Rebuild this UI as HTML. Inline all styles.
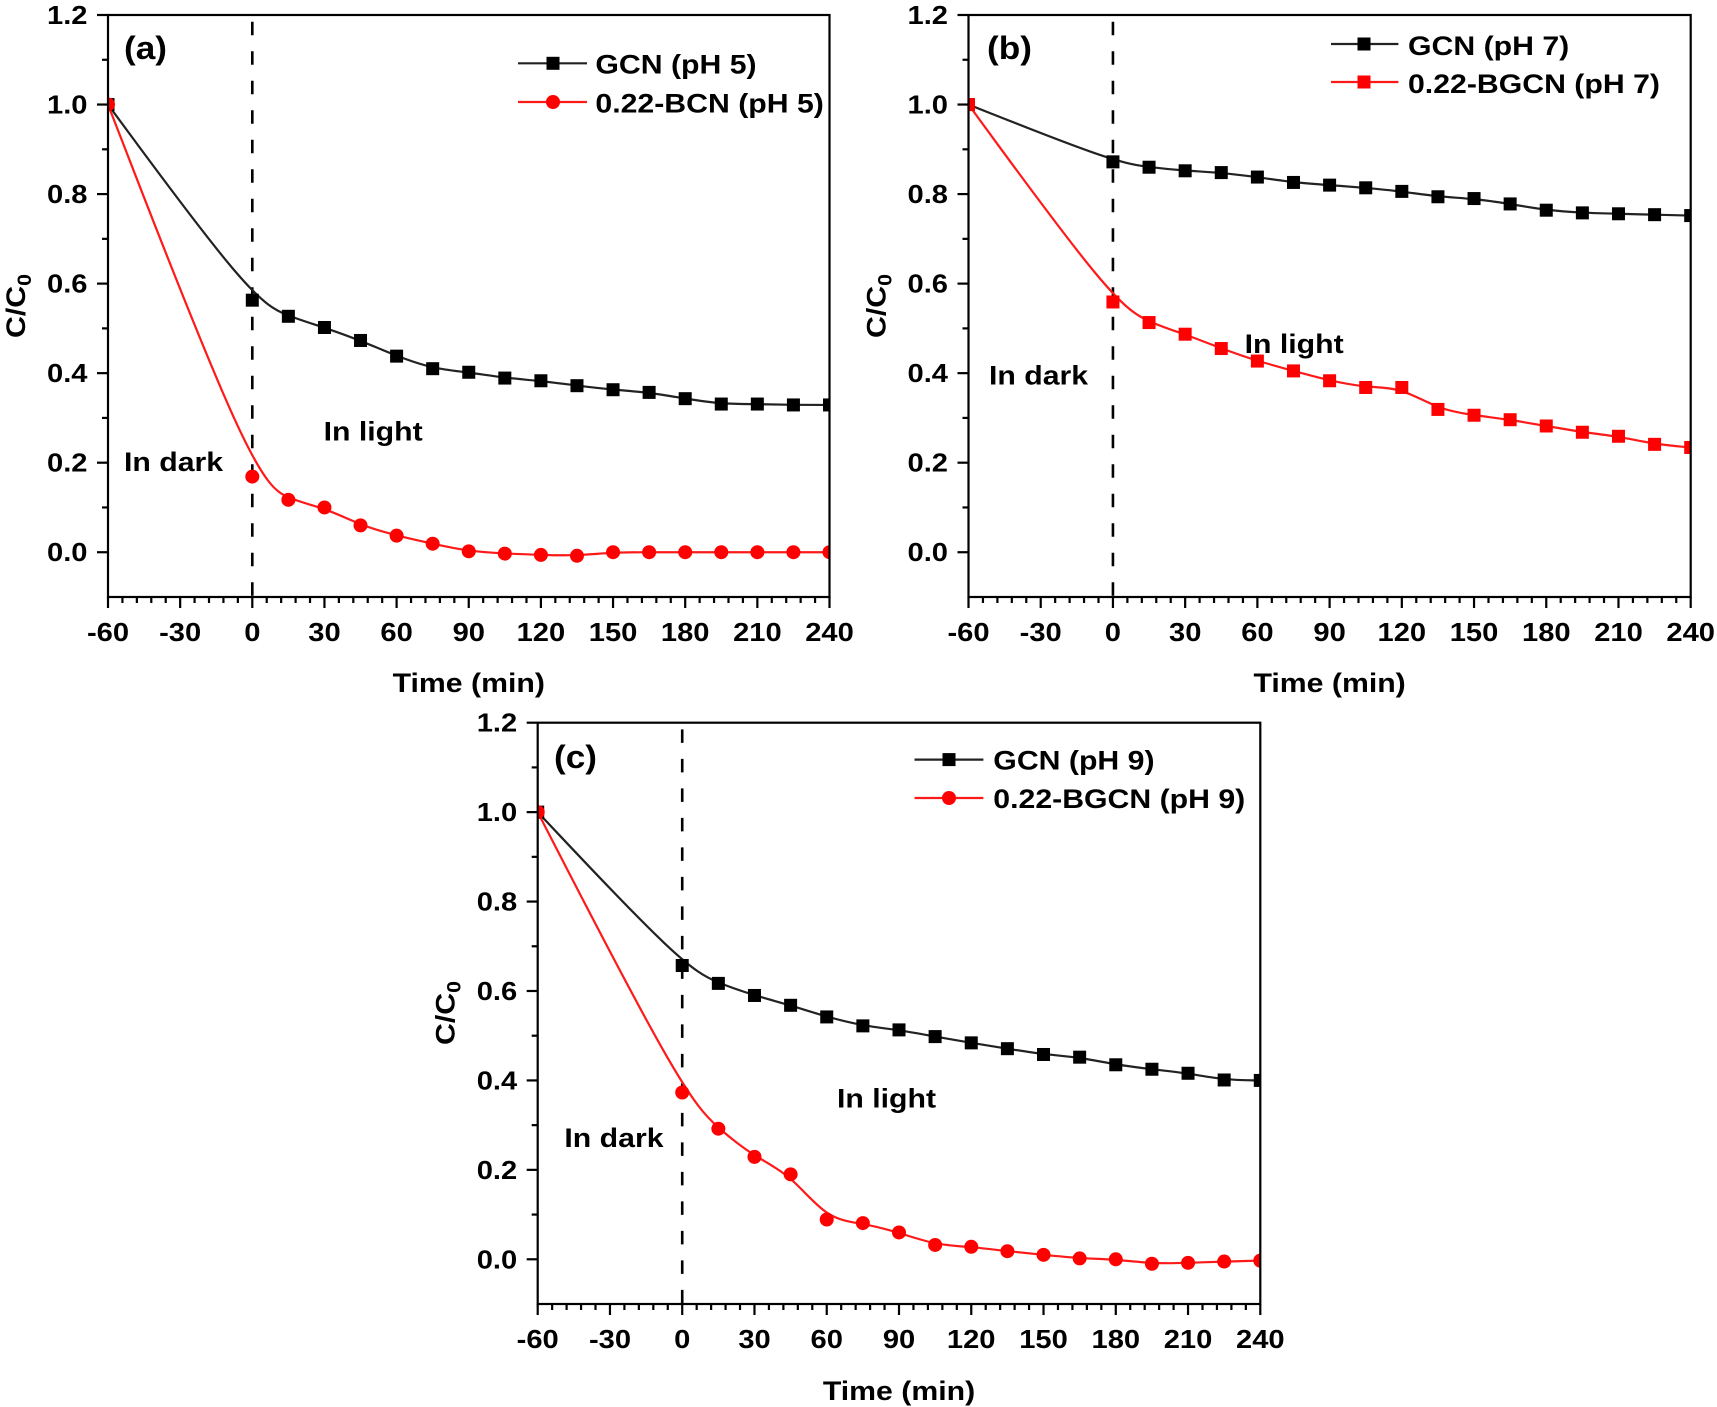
<!DOCTYPE html>
<html>
<head>
<meta charset="utf-8">
<style>
html,body{margin:0;padding:0;background:#fff;}
svg{display:block;}
text{font-family:"Liberation Sans",Arial,sans-serif;font-weight:bold;fill:#000;}
.tk{font-size:26px;}
.lg{font-size:27px;}
.ti{font-size:27px;}
.pl{font-size:32px;}
</style>
</head>
<body>
<svg id="svg" xmlns="http://www.w3.org/2000/svg" width="1717" height="1407" viewBox="0 0 1717 1407">
<rect x="0" y="0" width="1717" height="1407" fill="#fff"/>
<defs>
<clipPath id="ca"><rect x="108" y="15" width="721.5" height="582"/></clipPath>
<clipPath id="cb"><rect x="968.5" y="15" width="722.2" height="582"/></clipPath>
<clipPath id="cc"><rect x="537.7" y="722.7" width="722.6" height="581.3"/></clipPath>
</defs>
<g id="geo"></g>

<!-- Panel a y tick labels -->
<g class="tk" text-anchor="end">
<text transform="translate(87.5,561.2) scale(1.12,1)">0.0</text>
<text transform="translate(87.5,471.7) scale(1.12,1)">0.2</text>
<text transform="translate(87.5,382.1) scale(1.12,1)">0.4</text>
<text transform="translate(87.5,292.6) scale(1.12,1)">0.6</text>
<text transform="translate(87.5,203.0) scale(1.12,1)">0.8</text>
<text transform="translate(87.5,113.5) scale(1.12,1)">1.0</text>
<text transform="translate(87.5,24.0) scale(1.12,1)">1.2</text>
</g>
<!-- Panel b y tick labels -->
<g class="tk" text-anchor="end">
<text transform="translate(948,561.2) scale(1.12,1)">0.0</text>
<text transform="translate(948,471.7) scale(1.12,1)">0.2</text>
<text transform="translate(948,382.1) scale(1.12,1)">0.4</text>
<text transform="translate(948,292.6) scale(1.12,1)">0.6</text>
<text transform="translate(948,203.0) scale(1.12,1)">0.8</text>
<text transform="translate(948,113.5) scale(1.12,1)">1.0</text>
<text transform="translate(948,24.0) scale(1.12,1)">1.2</text>
</g>
<!-- Panel c y tick labels -->
<g class="tk" text-anchor="end">
<text transform="translate(517.2,1268.3) scale(1.12,1)">0.0</text>
<text transform="translate(517.2,1178.9) scale(1.12,1)">0.2</text>
<text transform="translate(517.2,1089.4) scale(1.12,1)">0.4</text>
<text transform="translate(517.2,1000.0) scale(1.12,1)">0.6</text>
<text transform="translate(517.2,910.6) scale(1.12,1)">0.8</text>
<text transform="translate(517.2,821.1) scale(1.12,1)">1.0</text>
<text transform="translate(517.2,731.7) scale(1.12,1)">1.2</text>
</g>

<!-- Panel a x tick labels -->
<g class="tk" text-anchor="middle">
<text transform="translate(108,641) scale(1.12,1)">-60</text>
<text transform="translate(180.15,641) scale(1.12,1)">-30</text>
<text transform="translate(252.3,641) scale(1.12,1)">0</text>
<text transform="translate(324.45,641) scale(1.12,1)">30</text>
<text transform="translate(396.6,641) scale(1.12,1)">60</text>
<text transform="translate(468.75,641) scale(1.12,1)">90</text>
<text transform="translate(540.9,641) scale(1.12,1)">120</text>
<text transform="translate(613.05,641) scale(1.12,1)">150</text>
<text transform="translate(685.2,641) scale(1.12,1)">180</text>
<text transform="translate(757.35,641) scale(1.12,1)">210</text>
<text transform="translate(829.5,641) scale(1.12,1)">240</text>
</g>
<!-- Panel b x tick labels -->
<g class="tk" text-anchor="middle">
<text transform="translate(968.5,641) scale(1.12,1)">-60</text>
<text transform="translate(1040.7,641) scale(1.12,1)">-30</text>
<text transform="translate(1112.9,641) scale(1.12,1)">0</text>
<text transform="translate(1185.2,641) scale(1.12,1)">30</text>
<text transform="translate(1257.4,641) scale(1.12,1)">60</text>
<text transform="translate(1329.6,641) scale(1.12,1)">90</text>
<text transform="translate(1401.8,641) scale(1.12,1)">120</text>
<text transform="translate(1474.0,641) scale(1.12,1)">150</text>
<text transform="translate(1546.3,641) scale(1.12,1)">180</text>
<text transform="translate(1618.5,641) scale(1.12,1)">210</text>
<text transform="translate(1690.7,641) scale(1.12,1)">240</text>
</g>
<!-- Panel c x tick labels -->
<g class="tk" text-anchor="middle">
<text transform="translate(537.7,1348) scale(1.12,1)">-60</text>
<text transform="translate(610.0,1348) scale(1.12,1)">-30</text>
<text transform="translate(682.2,1348) scale(1.12,1)">0</text>
<text transform="translate(754.5,1348) scale(1.12,1)">30</text>
<text transform="translate(826.7,1348) scale(1.12,1)">60</text>
<text transform="translate(899.0,1348) scale(1.12,1)">90</text>
<text transform="translate(971.2,1348) scale(1.12,1)">120</text>
<text transform="translate(1043.5,1348) scale(1.12,1)">150</text>
<text transform="translate(1115.8,1348) scale(1.12,1)">180</text>
<text transform="translate(1188.0,1348) scale(1.12,1)">210</text>
<text transform="translate(1260.3,1348) scale(1.12,1)">240</text>
</g>

<!-- Axis titles -->
<g class="ti" text-anchor="middle">
<text transform="translate(468.75,692) scale(1.12,1)">Time (min)</text>
<text transform="translate(1329.6,692) scale(1.12,1)">Time (min)</text>
<text transform="translate(899,1400) scale(1.12,1)">Time (min)</text>
<text transform="translate(25,306) rotate(-90) scale(1.12,1)">C/C<tspan font-size="19" dy="6">0</tspan></text>
<text transform="translate(885.5,306) rotate(-90) scale(1.12,1)">C/C<tspan font-size="19" dy="6">0</tspan></text>
<text transform="translate(454.7,1013) rotate(-90) scale(1.12,1)">C/C<tspan font-size="19" dy="6">0</tspan></text>
</g>

<!-- Panel labels -->
<g class="pl">
<text transform="translate(124,59) scale(1.1,1)">(a)</text>
<text transform="translate(987,59) scale(1.1,1)">(b)</text>
<text transform="translate(554,768) scale(1.1,1)">(c)</text>
</g>

<!-- Annotations -->
<g class="lg">
<text transform="translate(124,471) scale(1.12,1)">In dark</text>
<text transform="translate(323.6,440.6) scale(1.12,1)">In light</text>
<text transform="translate(989,384.6) scale(1.12,1)">In dark</text>
<text transform="translate(1244.6,353) scale(1.12,1)">In light</text>
<text transform="translate(564.4,1147) scale(1.12,1)">In dark</text>
<text transform="translate(837,1107.5) scale(1.12,1)">In light</text>
</g>

<!-- Legends -->
<g class="lg">
<text transform="translate(595.4,73.5) scale(1.12,1)">GCN (pH 5)</text>
<text transform="translate(595.4,112.5) scale(1.12,1)">0.22-BCN (pH 5)</text>
<text transform="translate(1408,55) scale(1.12,1)">GCN (pH 7)</text>
<text transform="translate(1408,93) scale(1.12,1)">0.22-BGCN (pH 7)</text>
<text transform="translate(993.3,769.5) scale(1.12,1)">GCN (pH 9)</text>
<text transform="translate(993.3,808) scale(1.12,1)">0.22-BGCN (pH 9)</text>
</g>
</svg>

<script>
(function(){
var NS="http://www.w3.org/2000/svg";
var geo=document.getElementById("geo");
function el(tag,attrs,parent){var e=document.createElementNS(NS,tag);for(var k in attrs)e.setAttribute(k,attrs[k]);(parent||geo).appendChild(e);return e;}
var xs=[-60];for(var t=0;t<=240;t+=15)xs.push(t);
var panels=[
 {x0:108,x1:829.5,yT:15,yB:597,clip:"ca",
  s1:[1.0,0.563,0.527,0.502,0.473,0.438,0.410,0.402,0.389,0.383,0.372,0.363,0.357,0.343,0.331,0.331,0.329,0.329],
  s2:[1.0,0.169,0.117,0.10,0.06,0.037,0.019,0.002,-0.003,-0.006,-0.008,0,0,0,0,0,0,0],m2:"c",
  leg:{x0:518,x1:587,mx:553,y1:63.3,y2:102}},
 {x0:968.5,x1:1690.7,yT:15,yB:597,clip:"cb",
  s1:[1.0,0.872,0.86,0.852,0.848,0.838,0.826,0.82,0.814,0.806,0.794,0.79,0.778,0.764,0.758,0.756,0.754,0.752],
  s2:[1.0,0.559,0.513,0.487,0.455,0.427,0.405,0.383,0.368,0.368,0.319,0.306,0.296,0.282,0.268,0.259,0.241,0.234],m2:"s",
  leg:{x0:1331,x1:1398.4,mx:1364,y1:44,y2:82}},
 {x0:537.7,x1:1260.3,yT:722.7,yB:1304,clip:"cc",
  s1:[1.0,0.657,0.617,0.59,0.568,0.542,0.522,0.513,0.498,0.484,0.471,0.458,0.452,0.435,0.425,0.416,0.401,0.4],
  s2:[1.0,0.373,0.292,0.229,0.19,0.089,0.081,0.06,0.032,0.028,0.018,0.01,0.002,0,-0.01,-0.008,-0.005,-0.003],m2:"c",
  leg:{x0:914.5,x1:983.4,mx:949,y1:759.6,y2:798}}
];
function bs(P){
 var Q=[P[0],P[0]].concat(P,[P[P.length-1],P[P.length-1]]);
 var d="M"+P[0][0].toFixed(2)+","+P[0][1].toFixed(2);
 for(var i=0;i+3<Q.length;i++){
  var a=Q[i],b=Q[i+1],c=Q[i+2],e=Q[i+3];
  var b1=[(2*b[0]+c[0])/3,(2*b[1]+c[1])/3],b2=[(b[0]+2*c[0])/3,(b[1]+2*c[1])/3],b3=[(b[0]+4*c[0]+e[0])/6,(b[1]+4*c[1]+e[1])/6];
  d+=" C"+b1[0].toFixed(2)+","+b1[1].toFixed(2)+" "+b2[0].toFixed(2)+","+b2[1].toFixed(2)+" "+b3[0].toFixed(2)+","+b3[1].toFixed(2);
 }
 return d;
}
function marker(type,x,y,col,g){
 if(type==="s")el("rect",{x:x-6.5,y:y-6.5,width:13,height:13,fill:col},g);
 else el("circle",{cx:x,cy:y,r:7,fill:col},g);
}
panels.forEach(function(p){
 var X=function(t){return p.x0+(t+60)*(p.x1-p.x0)/300;};
 var Y=function(v){return p.yB-(v+0.1)*(p.yB-p.yT)/1.3;};
 var g=el("g",{"clip-path":"url(#"+p.clip+")"});
 // dashed line at t=0
 el("line",{x1:X(0),y1:p.yT-22.8,x2:X(0),y2:p.yB,stroke:"#000","stroke-width":2.6,"stroke-dasharray":"13.5 16"},g);
 var P1=xs.map(function(t,i){return [X(t),Y(p.s1[i])];});
 var P2=xs.map(function(t,i){return [X(t),Y(p.s2[i])];});
 el("path",{d:bs(P1),fill:"none",stroke:"#222","stroke-width":2.2},g);
 P1.forEach(function(q){marker("s",q[0],q[1],"#000",g);});
 el("path",{d:bs(P2),fill:"none",stroke:"#ff1a1a","stroke-width":2.2},g);
 P2.forEach(function(q){marker(p.m2,q[0],q[1],"#f00",g);});
 // frame
 el("rect",{x:p.x0,y:p.yT,width:p.x1-p.x0,height:p.yB-p.yT,fill:"none",stroke:"#000","stroke-width":2.2});
 // x ticks
 for(var t=-60;t<=240;t+=6){
  var maj=((t+60)%30===0);
  el("line",{x1:X(t),y1:p.yB,x2:X(t),y2:p.yB+(maj?11:6),stroke:"#000","stroke-width":2.2});
 }
 // y ticks
 for(var k=0;k<=12;k++){
  var v=k/10, maj=(k%2===0);
  el("line",{x1:p.x0,y1:Y(v),x2:p.x0-(maj?11:6),y2:Y(v),stroke:"#000","stroke-width":2.2});
 }
 // legend
 var L=p.leg;
 el("line",{x1:L.x0,y1:L.y1,x2:L.x1,y2:L.y1,stroke:"#222","stroke-width":2.2});
 marker("s",L.mx,L.y1,"#000");
 el("line",{x1:L.x0,y1:L.y2,x2:L.x1,y2:L.y2,stroke:"#ff1a1a","stroke-width":2.2});
 marker(p.m2,L.mx,L.y2,"#f00");
});
})();
</script>
</body>
</html>
